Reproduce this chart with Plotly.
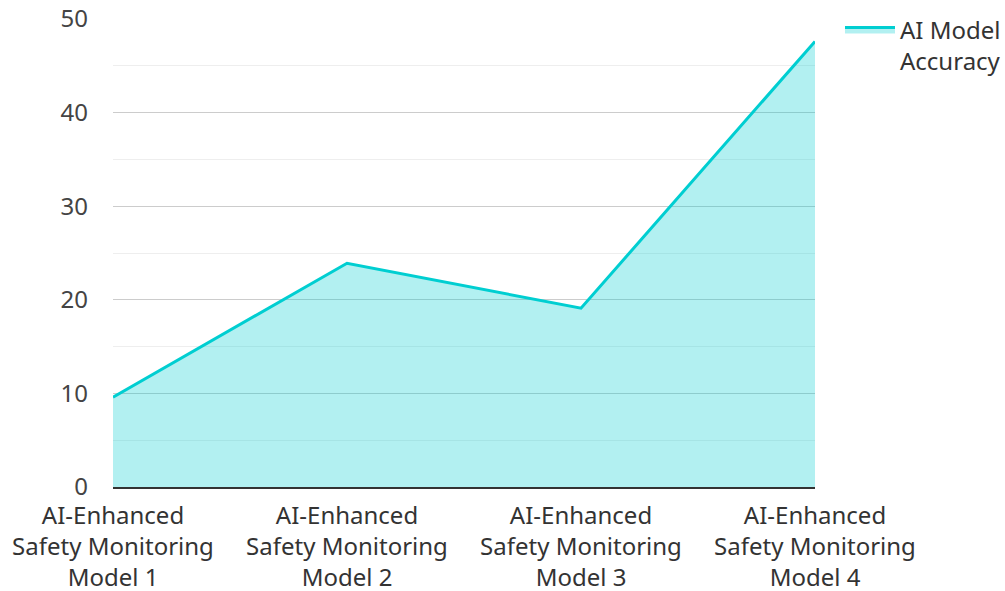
import plotly.graph_objects as go

categories = [
    "AI-Enhanced<br>Safety Monitoring<br>Model 1",
    "AI-Enhanced<br>Safety Monitoring<br>Model 2",
    "AI-Enhanced<br>Safety Monitoring<br>Model 3",
    "AI-Enhanced<br>Safety Monitoring<br>Model 4",
]
accuracy = [9.6, 23.9, 19.1, 47.6]
series_name = "AI Model<br>Accuracy"
y_ticks = [0, 10, 20, 30, 40, 50]

fig = go.Figure()
fig.add_trace(go.Scatter(
    x=categories,
    y=accuracy,
    name=series_name,
    mode="lines",
    fill="tozeroy",
    line=dict(color="#00CED1", width=3),
    fillcolor="rgba(0,206,209,0.3)",
))

fig.update_layout(
    width=1005,
    height=591,
    margin=dict(l=113, r=190, t=19, b=104, autoexpand=False),
    plot_bgcolor="white",
    paper_bgcolor="white",
    font=dict(family="Noto Sans", size=24, color="#444"),
    legend=dict(
        x=1.0356, y=1.025, xanchor="left", yanchor="top",
        font=dict(size=24, color="#333"),
        bgcolor="rgba(0,0,0,0)",
        valign="top",
        itemwidth=50,
    ),
    showlegend=True,
)

fig.update_xaxes(
    type="category",
    range=[0, 3],
    automargin=False,
    showgrid=False,
    showline=True,
    linecolor="#333",
    linewidth=2,
    ticks="",
    ticklabelstandoff=6,
    tickfont=dict(size=24, color="#333"),
)
fig.update_yaxes(
    range=[0, 50],
    automargin=False,
    tickvals=y_ticks,
    showgrid=True,
    gridcolor="#cccccc",
    gridwidth=1,
    zeroline=False,
    showline=False,
    ticks="",
    ticklabelstandoff=24,
    tickfont=dict(size=24, color="#444"),
    minor=dict(dtick=5, showgrid=True, gridcolor="#eeeeee", gridwidth=1),
)

fig.write_html("out.html")
